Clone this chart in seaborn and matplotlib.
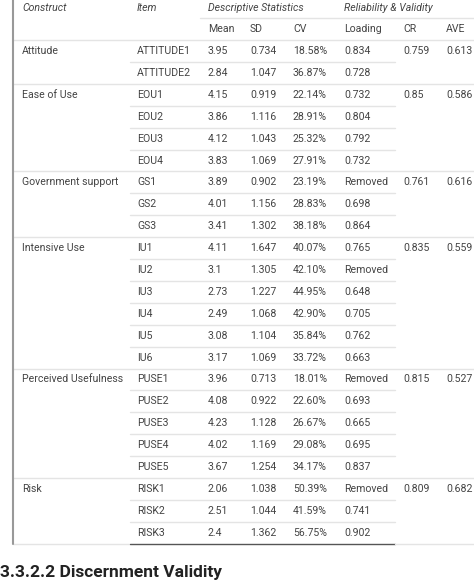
import matplotlib.pyplot as plt
import seaborn as sns

sns.set_theme(style="white")
plt.rcParams['font.family'] = ['Roboto', 'DejaVu Sans']

constructs = ["Attitude", "Ease of Use", "Government support", "Intensive Use",
              "Perceived Usefulness", "Risk"]
items = [["ATTITUDE1", "ATTITUDE2"],
         ["EOU1", "EOU2", "EOU3", "EOU4"],
         ["GS1", "GS2", "GS3"],
         ["IU1", "IU2", "IU3", "IU4", "IU5", "IU6"],
         ["PUSE1", "PUSE2", "PUSE3", "PUSE4", "PUSE5"],
         ["RISK1", "RISK2", "RISK3"]]
means = [["3.95", "2.84"], ["4.15", "3.86", "4.12", "3.83"], ["3.89", "4.01", "3.41"],
         ["4.11", "3.1", "2.73", "2.49", "3.08", "3.17"],
         ["3.96", "4.08", "4.23", "4.02", "3.67"], ["2.06", "2.51", "2.4"]]
sds = [["0.734", "1.047"], ["0.919", "1.116", "1.043", "1.069"], ["0.902", "1.156", "1.302"],
       ["1.647", "1.305", "1.227", "1.068", "1.104", "1.069"],
       ["0.713", "0.922", "1.128", "1.169", "1.254"], ["1.038", "1.044", "1.362"]]
cvs = [["18.58%", "36.87%"], ["22.14%", "28.91%", "25.32%", "27.91%"],
       ["23.19%", "28.83%", "38.18%"],
       ["40.07%", "42.10%", "44.95%", "42.90%", "35.84%", "33.72%"],
       ["18.01%", "22.60%", "26.67%", "29.08%", "34.17%"],
       ["50.39%", "41.59%", "56.75%"]]
loadings = [["0.834", "0.728"], ["0.732", "0.804", "0.792", "0.732"],
            ["Removed", "0.698", "0.864"],
            ["0.765", "Removed", "0.648", "0.705", "0.762", "0.663"],
            ["Removed", "0.693", "0.665", "0.695", "0.837"],
            ["Removed", "0.741", "0.902"]]
crs = ["0.759", "0.85", "0.761", "0.835", "0.815", "0.809"]
aves = ["0.613", "0.586", "0.616", "0.559", "0.527", "0.682"]

col_x = [22, 137, 208, 250, 293, 344, 403, 446]
row_h = 21.9
y0 = 51
fs = 7.6
txt = "#444444"
light = "#e4e4e4"

fig = plt.figure(figsize=(4.74, 5.84), dpi=100)
ax = fig.add_axes([0, 0, 1, 1])
ax.set_xlim(0, 474)
ax.set_ylim(584, 0)
ax.axis("off")

# header
for x, s in [(col_x[0], "Construct"), (col_x[1], "Item"),
             (col_x[2], "Descriptive Statistics"), (col_x[5], "Reliability & Validity")]:
    ax.text(x, 8, s, style="italic", fontsize=fs, color=txt, va="center")
for x, s in zip(col_x[2:], ["Mean", "SD", "CV", "Loading", "CR", "AVE"]):
    ax.text(x, 29, s, fontsize=fs, color=txt, va="center")
ax.plot([200, 474], [18, 18], color=light, lw=1)
ax.plot([13, 474], [40, 40], color=light, lw=1)

r = 0
for g, name in enumerate(constructs):
    top = y0 + r * row_h
    ax.text(col_x[0], top, name, fontsize=fs, color=txt, va="center")
    ax.text(col_x[6], top, crs[g], fontsize=fs, color=txt, va="center")
    ax.text(col_x[7], top, aves[g], fontsize=fs, color=txt, va="center")
    for i, it in enumerate(items[g]):
        y = y0 + r * row_h
        vals = [it, means[g][i], sds[g][i], cvs[g][i], loadings[g][i]]
        for x, s in zip(col_x[1:6], vals):
            ax.text(x, y, s, fontsize=fs, color=txt, va="center")
        if i < len(items[g]) - 1:
            ax.plot([130, 395], [y + row_h / 2] * 2, color=light, lw=1)
        r += 1
    yb = y0 + (r - 0.5) * row_h
    if g < len(constructs) - 1:
        ax.plot([13, 474], [yb, yb], color=light, lw=1)
    else:
        ax.plot([13, 130], [yb, yb], color=light, lw=1)
        ax.plot([130, 395], [yb, yb], color="#555555", lw=1)
        ax.plot([395, 474], [yb, yb], color=light, lw=1)
        ax.plot([13, 13], [0, yb], color="#999999", lw=1.5)

ax.text(0, 572, "3.3.2.2 Discernment Validity", fontsize=12.5, weight="bold",
        color="#222222", va="center")

fig.savefig("out.png", dpi=100, facecolor="white")
